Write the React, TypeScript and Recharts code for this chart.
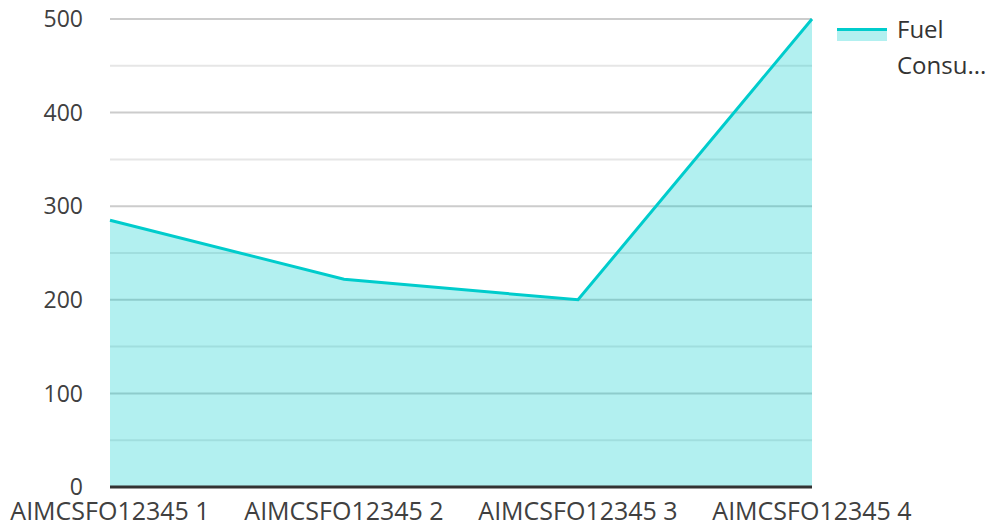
import { Area, AreaChart, CartesianGrid, Legend, XAxis, YAxis } from "recharts";

const categories = ["AIMCSFO12345 1", "AIMCSFO12345 2", "AIMCSFO12345 3", "AIMCSFO12345 4"];
const fuelConsumption = [285, 222, 200, 500];
const yTicks = [0, 100, 200, 300, 400, 500];
const minorTicks = [50, 150, 250, 350, 450];
const legendLines = ["Fuel", "Consu..."];

const data = categories.map((name, i) => ({ name, fuel: fuelConsumption[i] }));

const FONT = "'Open Sans', 'Noto Sans', sans-serif";
const LINE = "#00cccc";
const TEXT = "#404040";

function FuelLegend() {
  return (
    <div style={{ display: "flex", fontFamily: FONT, fontSize: 24, color: "#333" }}>
      <div style={{ width: 50, marginTop: 17, marginRight: 10 }}>
        <div style={{ height: 3, background: LINE }} />
        <div style={{ height: 10, background: LINE, opacity: 0.3 }} />
      </div>
      <div style={{ lineHeight: "36px" }}>
        {legendLines.map((t) => (
          <div key={t}>{t}</div>
        ))}
      </div>
    </div>
  );
}

export default function App() {
  return (
    <div style={{ position: "absolute", left: 0, top: 0, background: "#fff" }}>
      <AreaChart
        width={990}
        height={526}
        data={data}
        margin={{ top: 19, right: 28, bottom: 0, left: 0 }}
      >
        <CartesianGrid vertical={false} stroke="#e6e6e6" strokeWidth={2} horizontalValues={minorTicks} />
        <CartesianGrid vertical={false} stroke="#cccccc" strokeWidth={2} horizontalValues={yTicks} />
        <XAxis
          dataKey="name"
          tickLine={false}
          axisLine={{ stroke: "#333", strokeWidth: 3 }}
          tickSize={0}
          tickMargin={15}
          height={39}
          interval={0}
          fontSize={25}
          tick={{ fill: TEXT, fontSize: 25, fontFamily: FONT }}
        />
        <YAxis
          type="number"
          domain={[0, 500]}
          ticks={yTicks}
          width={110}
          tickLine={false}
          axisLine={false}
          tickSize={0}
          tickMargin={27}
          fontSize={23}
          tick={{ fill: TEXT, fontSize: 23, fontFamily: FONT }}
        />
        <Legend
          layout="vertical"
          verticalAlign="top"
          align="right"
          content={<FuelLegend />}
          wrapperStyle={{ position: "absolute", left: 837, top: 11, width: 150 }}
        />
        <Area
          type="linear"
          dataKey="fuel"
          name="Fuel Consumption"
          stroke={LINE}
          strokeWidth={3}
          fill={LINE}
          fillOpacity={0.3}
          dot={false}
          activeDot={false}
          isAnimationActive={false}
        />
      </AreaChart>
    </div>
  );
}
